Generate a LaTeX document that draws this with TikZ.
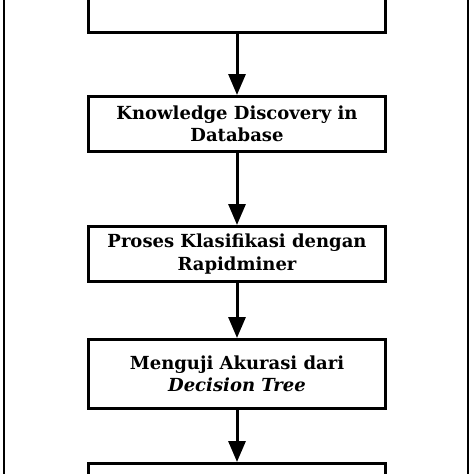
\documentclass[tikz,border=0pt]{standalone}
\usepackage{fontspec}
\setmainfont{DejaVu Serif}
\usepackage{tikz}
\usetikzlibrary{positioning, arrows.meta}

\begin{document}
\begin{tikzpicture}[x=1pt, y=-1pt, >={Triangle[width=17pt, length=21pt]},
        box/.style={draw, line width=3pt, minimum width=297pt, minimum height=55pt,
            align=center, font=\fontsize{18}{22.5}\selectfont\bfseries},
        arr/.style={->, line width=3pt}]
        \useasboundingbox (0,0) rectangle (474,474);
        \clip (0,0) rectangle (474,474);
        \draw[line width=2.5pt] (4,-50) rectangle (468,530);
        \node[box] (top) at (237,5) {};
        \node[box, below=61pt of top] (kdd) {Knowledge Discovery in\\Database};
        \node[box, below=72pt of kdd] (proses) {Proses Klasifikasi dengan\\Rapidminer};
        \node[box, below=55pt of proses, minimum height=69pt] (uji) {Menguji Akurasi dari\\\textit{Decision Tree}};
        \node[box, below=52pt of uji] (bottom) {};
        \draw[arr] (top) -- (kdd);
        \draw[arr] (kdd) -- (proses);
        \draw[arr] (proses) -- (uji);
        \draw[arr] (uji) -- (bottom);
    \end{tikzpicture}
\end{document}
